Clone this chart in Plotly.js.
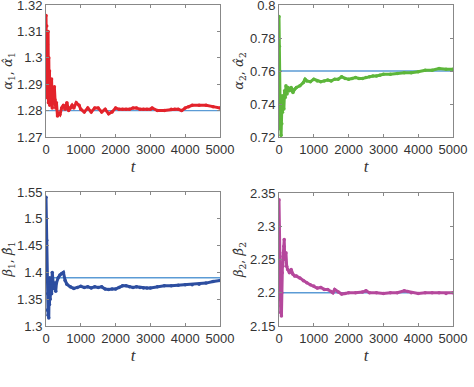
<!DOCTYPE html>
<html><head><meta charset="utf-8">
<script src="https://cdn.plot.ly/plotly-3.0.1.min.js"></script>
<style>html,body{margin:0;padding:0;background:#fff}#g{width:474px;height:387px}</style>
</head><body><div id="g"></div>
<script>
// time samples and estimates
const tA1 = [0,10,20,30,40,50,60,70,80,90,100,110,120,140,160,180,200,220,240,260,280,300,330,360,400,450,500,550,600,650,700,750,800,870,950,1000,1100,1200,1300,1400,1500,1600,1700,1800,1900,2000,2100,2200,2300,2400,2500,2600,2700,2800,2900,3000,3050,3200,3400,3600,3700,3800,3900,4000,4100,4200,4400,4600,4800,5000];
const alpha1 = [1.316,1.300,1.312,1.285,1.305,1.290,1.310,1.283,1.300,1.288,1.295,1.282,1.290,1.284,1.292,1.281,1.288,1.283,1.289,1.284,1.281,1.283,1.278,1.279,1.2785,1.281,1.282,1.2805,1.283,1.280,1.281,1.282,1.281,1.283,1.282,1.2805,1.2795,1.281,1.2795,1.281,1.281,1.2795,1.2805,1.2788,1.2795,1.281,1.2805,1.2805,1.2805,1.2805,1.281,1.281,1.2805,1.2805,1.2805,1.2805,1.281,1.280,1.280,1.2805,1.2805,1.2805,1.280,1.281,1.2815,1.282,1.282,1.282,1.2815,1.281];
const tA2 = [0,10,20,30,40,50,60,70,80,90,100,120,140,160,180,200,230,260,300,350,400,450,500,600,700,750,800,900,1000,1100,1200,1300,1400,1500,1600,1700,1800,1900,2000,2100,2200,2300,2400,2500,2600,2700,2800,2900,3000,3200,3400,3600,3800,4000,4200,4400,4600,4800,5000];
const alpha2 = [0.793,0.775,0.760,0.735,0.725,0.730,0.721,0.740,0.728,0.745,0.735,0.742,0.737,0.748,0.744,0.751,0.746,0.750,0.748,0.750,0.747,0.749,0.750,0.751,0.753,0.755,0.754,0.7535,0.755,0.754,0.7535,0.754,0.7545,0.754,0.755,0.755,0.7565,0.7555,0.755,0.7555,0.756,0.7555,0.7555,0.756,0.7565,0.757,0.757,0.7575,0.758,0.758,0.7585,0.759,0.759,0.7595,0.7605,0.7605,0.7615,0.761,0.761];
const tB1 = [0,10,20,30,40,50,60,70,80,90,100,110,120,140,160,180,200,220,250,280,300,350,400,450,500,550,600,700,800,900,1000,1100,1200,1300,1400,1500,1600,1700,1800,1900,2000,2100,2200,2300,2400,2500,2600,2700,2800,2900,3000,3200,3400,3600,3800,4000,4200,4400,4600,4800,5000];
const beta1 = [1.54,1.50,1.46,1.40,1.33,1.36,1.32,1.38,1.315,1.37,1.34,1.39,1.35,1.38,1.36,1.40,1.38,1.37,1.38,1.365,1.38,1.39,1.395,1.398,1.40,1.385,1.378,1.373,1.370,1.372,1.374,1.372,1.373,1.371,1.373,1.372,1.373,1.369,1.368,1.369,1.369,1.372,1.375,1.375,1.373,1.372,1.373,1.372,1.371,1.371,1.371,1.373,1.375,1.375,1.376,1.377,1.377,1.378,1.380,1.383,1.385];
const tB2 = [0,10,20,30,40,50,60,70,80,90,100,110,120,140,150,160,180,200,220,250,300,350,400,450,500,600,700,800,900,1000,1100,1200,1300,1400,1500,1550,1600,1700,1800,1900,2000,2200,2400,2500,2600,2800,3000,3200,3400,3600,3700,3800,4000,4200,4400,4600,4800,5000];
const beta2 = [2.34,2.30,2.26,2.22,2.19,2.17,2.18,2.165,2.20,2.23,2.245,2.24,2.255,2.27,2.28,2.26,2.25,2.26,2.24,2.235,2.23,2.235,2.228,2.225,2.225,2.222,2.218,2.215,2.212,2.210,2.207,2.208,2.205,2.205,2.202,2.200,2.205,2.201,2.198,2.199,2.200,2.200,2.201,2.203,2.200,2.200,2.199,2.200,2.200,2.203,2.202,2.200,2.199,2.200,2.200,2.200,2.199,2.200];
const trueA1 = 1.28, trueA2 = 0.76, trueB1 = 1.39, trueB2 = 2.2;
const tEnds = [0, 5000];
const xTicks = [0,1000,2000,3000,4000,5000];
const yTicksA1 = [1.27,1.28,1.29,1.3,1.31,1.32];
const yTicksA2 = [0.72,0.74,0.76,0.78,0.8];
const yTicksB1 = [1.3,1.35,1.4,1.45,1.5,1.55];
const yTicksB2 = [2.15,2.2,2.25,2.3,2.35];

const truthColor = '#5b9bd5';
function truth(v, xa, ya){ return {x:tEnds, y:[v,v], xaxis:xa, yaxis:ya, mode:'lines', line:{color:truthColor,width:1.3}, hoverinfo:'skip'}; }
function est(t, y, c, xa, ya){ return {x:t, y:y, xaxis:xa, yaxis:ya, mode:'lines+markers', line:{color:c,width:3}, marker:{color:c,size:3.5}}; }

const data = [
  truth(trueA1,'x','y'), est(tA1,alpha1,'#e3232b','x','y'),
  truth(trueA2,'x2','y2'), est(tA2,alpha2,'#5db63b','x2','y2'),
  truth(trueB1,'x3','y3'), est(tB1,beta1,'#2d4ea0','x3','y3'),
  truth(trueB2,'x4','y4'), est(tB2,beta2,'#b5489c','x4','y4')
];

const W=474,H=387;
const fx = (a,b)=>[a/W,b/W], fy=(top,bot)=>[1-bot/H,1-top/H];
const tickFont = {family:'Liberation Sans, Arial, sans-serif', size:13, color:'#333'};
const titleFont = {family:'DejaVu Serif, serif', size:13, color:'#333'};
function xax(dom, anchor){ return {domain:dom, anchor:anchor, range:[0,5000], tickvals:xTicks, ticks:'inside', ticklen:3, tickcolor:'#888', showline:true, linecolor:'#888', linewidth:1, mirror:'ticks', showgrid:false, zeroline:false, tickfont:tickFont, ticklabeloverflow:'allow',
  title:{text:'<i>t</i>', font:{family:'Liberation Serif, Times New Roman, serif', size:17, color:'#333'}, standoff:3}}; }
function yax(dom, anchor, range, tv, title){ return {domain:dom, anchor:anchor, range:range, tickvals:tv, ticks:'inside', ticklen:3, tickcolor:'#888', showline:true, linecolor:'#888', linewidth:1, mirror:'ticks', showgrid:false, zeroline:false, tickfont:tickFont, ticklabeloverflow:'allow',
  title:{text:title, font:titleFont, standoff:3}}; }

const layout = {
  width:W, height:H, showlegend:false, paper_bgcolor:'#fff', plot_bgcolor:'#fff',
  margin:{l:0,r:0,t:0,b:0,pad:0},
  xaxis: xax(fx(46,220),'y'),
  yaxis: yax(fy(5,137),'x',[1.27,1.32],yTicksA1,'<i>α</i><sub>1</sub>, <i>α̂</i><sub>1</sub>'),
  xaxis2: xax(fx(279,453),'y2'),
  yaxis2: yax(fy(5,137),'x2',[0.72,0.8],yTicksA2,'<i>α</i><sub>2</sub>, <i>α̂</i><sub>2</sub>'),
  xaxis3: xax(fx(46,220),'y3'),
  yaxis3: yax(fy(192,326),'x3',[1.3,1.55],yTicksB1,'<i>β</i><sub>1</sub>, <i>β̂</i><sub>1</sub>'),
  xaxis4: xax(fx(279,453),'y4'),
  yaxis4: yax(fy(193,326),'x4',[2.15,2.35],yTicksB2,'<i>β</i><sub>2</sub>, <i>β̂</i><sub>2</sub>')
};
Plotly.newPlot('g', data, layout, {staticPlot:true, displayModeBar:false});
</script></body></html>
